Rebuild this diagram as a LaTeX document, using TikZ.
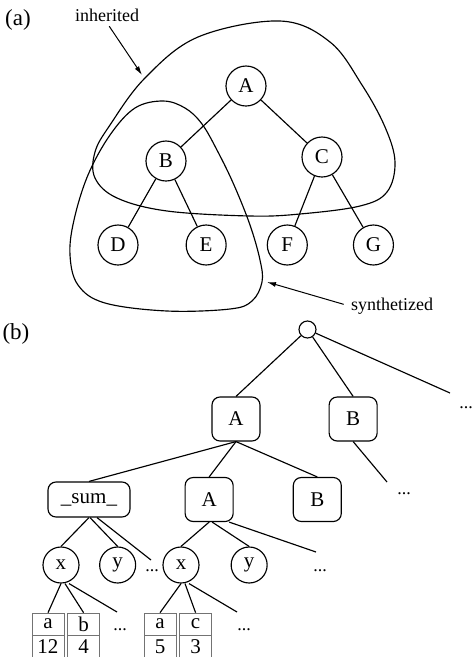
\documentclass[tikz,border=0pt]{standalone}
\usepackage{fontspec}
\setmainfont{Liberation Serif}
\usetikzlibrary{positioning,arrows.meta}

\begin{document}
\begin{tikzpicture}[x=1pt, y=-1pt, line width=1.15pt,
    vertex/.style={draw, circle, minimum size=40pt, inner sep=0pt, font=\fontsize{21}{24}\selectfont},
    small/.style={draw, circle, minimum size=36pt, inner sep=0pt, font=\fontsize{21}{24}\selectfont},
    box/.style={draw, rounded corners=8pt, minimum width=48pt, minimum height=44pt, inner sep=0pt, font=\fontsize{21}{24}\selectfont},
    cell/.style={draw=black!55, line width=0.6pt, minimum width=32pt, minimum height=22pt, inner sep=0pt, font=\fontsize{21}{24}\selectfont},
    more/.style={inner sep=0pt, font=\fontsize{18}{22}\selectfont},
    note/.style={inner sep=1pt, font=\fontsize{18}{22}\selectfont},
    tag/.style={inner sep=0pt, font=\fontsize{23}{26}\selectfont},
    pointer/.style={-{Latex[length=9pt,width=5pt]}, line width=1pt}]

    \useasboundingbox (0,0) rectangle (474,657);

    % (a)
    \node[tag] (taga) at (18,20) {(a)};

    \node[vertex] (A) at (246,86) {A};
    \node[vertex] (B) at (166,161) {B};
    \node[vertex] (C) at (322,157) {C};
    \node[vertex] (D) at (118,245) {D};
    \node[vertex, right=47pt of D] (E) {E};
    \node[vertex, right=40pt of E] (F) {F};
    \node[vertex, right=45pt of F] (G) {G};

    \draw (A) -- (B);
    \draw (A) -- (C);
    \draw (B) -- (D);
    \draw (B) -- (E);
    \draw (C) -- (F);
    \draw (C) -- (G);

    \draw plot[smooth cycle, tension=0.6] coordinates {
        (280,21) (330,42) (362,85) (385,127) (395,162) (387,192) (360,206)
        (300,214) (250,216) (167,211) (117,198) (95,178) (95,152) (110,125)
        (145,78) (198,37)};
    \draw plot[smooth cycle, tension=0.6] coordinates {
        (163,101) (185,108) (202,124) (218,152) (234,185) (250,225) (260,260)
        (262,282) (252,301) (230,309) (167,311) (105,303) (78,285) (70,255)
        (74,220) (88,175) (110,135) (135,108)};

    \node[note] (inh) at (107,15) {inherited};
    \coordinate (inhtip) at (142,75);
    \draw[pointer, shorten <=4pt] (inh.south) -- (inhtip);

    \node[note] (syn) at (392,306) {synthetized};
    \coordinate (syntip) at (267,282);
    \draw[pointer, shorten <=6pt] (syn.west) -- (syntip);

    % (b)
    \node[tag] (tagb) at (16,334) {(b)};

    \node[draw, circle, minimum size=17pt, inner sep=0pt] (root) at (307.5,329.5) {};
    \node[box] (top) at (236,419) {A};
    \node[box, right=68pt of top] (topB) {B};
    \node[more] (rootmore) at (466,408) {...};
    \coordinate (rootend) at (450,393);

    \draw (root) -- (top.north);
    \draw (root) -- (topB.north);
    \draw (root) -- (rootend);

    \node[box, minimum width=82pt, minimum height=35pt] (sum) at (89,499.5) {\_sum\_};
    \node[box, right=54pt of sum] (mid) {A};
    \node[box, right=59pt of mid] (midB) {B};
    \node[more] (Bmore) at (404,494) {...};
    \coordinate (Bend) at (387,482);

    \draw (top.south) -- (sum.north);
    \draw (top.south) -- (mid.north);
    \draw (top.south) -- (midB.north);
    \draw (topB.south) -- (Bend);

    \node[small] (x) at (61,565) {x};
    \node[small, right=19.5pt of x] (y) {y};
    \node[more] (summore) at (152,571) {...};
    \coordinate (sumend) at (151,560);
    \node[small] (x2) at (181,565) {x};
    \node[small, right=31pt of x2] (y2) {y};
    \node[more] (midmore) at (320,571) {...};
    \coordinate (midend) at (316,552);

    \draw (sum.south) -- (x.north);
    \draw ([xshift=1pt]sum.south) -- (y.north);
    \draw ([xshift=8pt]sum.south) -- (sumend);
    \draw (mid.south) -- (x2.north);
    \draw ([xshift=3pt]mid.south) -- (y2.north);
    \draw ([xshift=20pt]mid.south) -- (midend);

    \node[cell] (ka) at (48,624) {a};
    \node[cell, below=0pt of ka] (va) {12};
    \node[cell, right=3pt of ka] (kb) {b};
    \node[cell, below=0pt of kb] (vb) {4};
    \node[more] (xmore) at (120,630) {...};
    \coordinate (xend) at (117,612);
    \node[cell] (ka2) at (160,624) {a};
    \node[cell, below=0pt of ka2] (va2) {5};
    \node[cell, right=3pt of ka2] (kc2) {c};
    \node[cell, below=0pt of kc2] (vc2) {3};
    \node[more] (x2more) at (244,630) {...};
    \coordinate (x2end) at (237,612);

    \draw (x.south) -- (ka.north);
    \draw ([xshift=4pt]x.south) -- (kb.north);
    \draw ([xshift=8pt]x.south) -- (xend);
    \draw (x2.south) -- (ka2.north);
    \draw ([xshift=4pt]x2.south) -- (kc2.north);
    \draw ([xshift=8pt]x2.south) -- (x2end);

\end{tikzpicture}
\end{document}
